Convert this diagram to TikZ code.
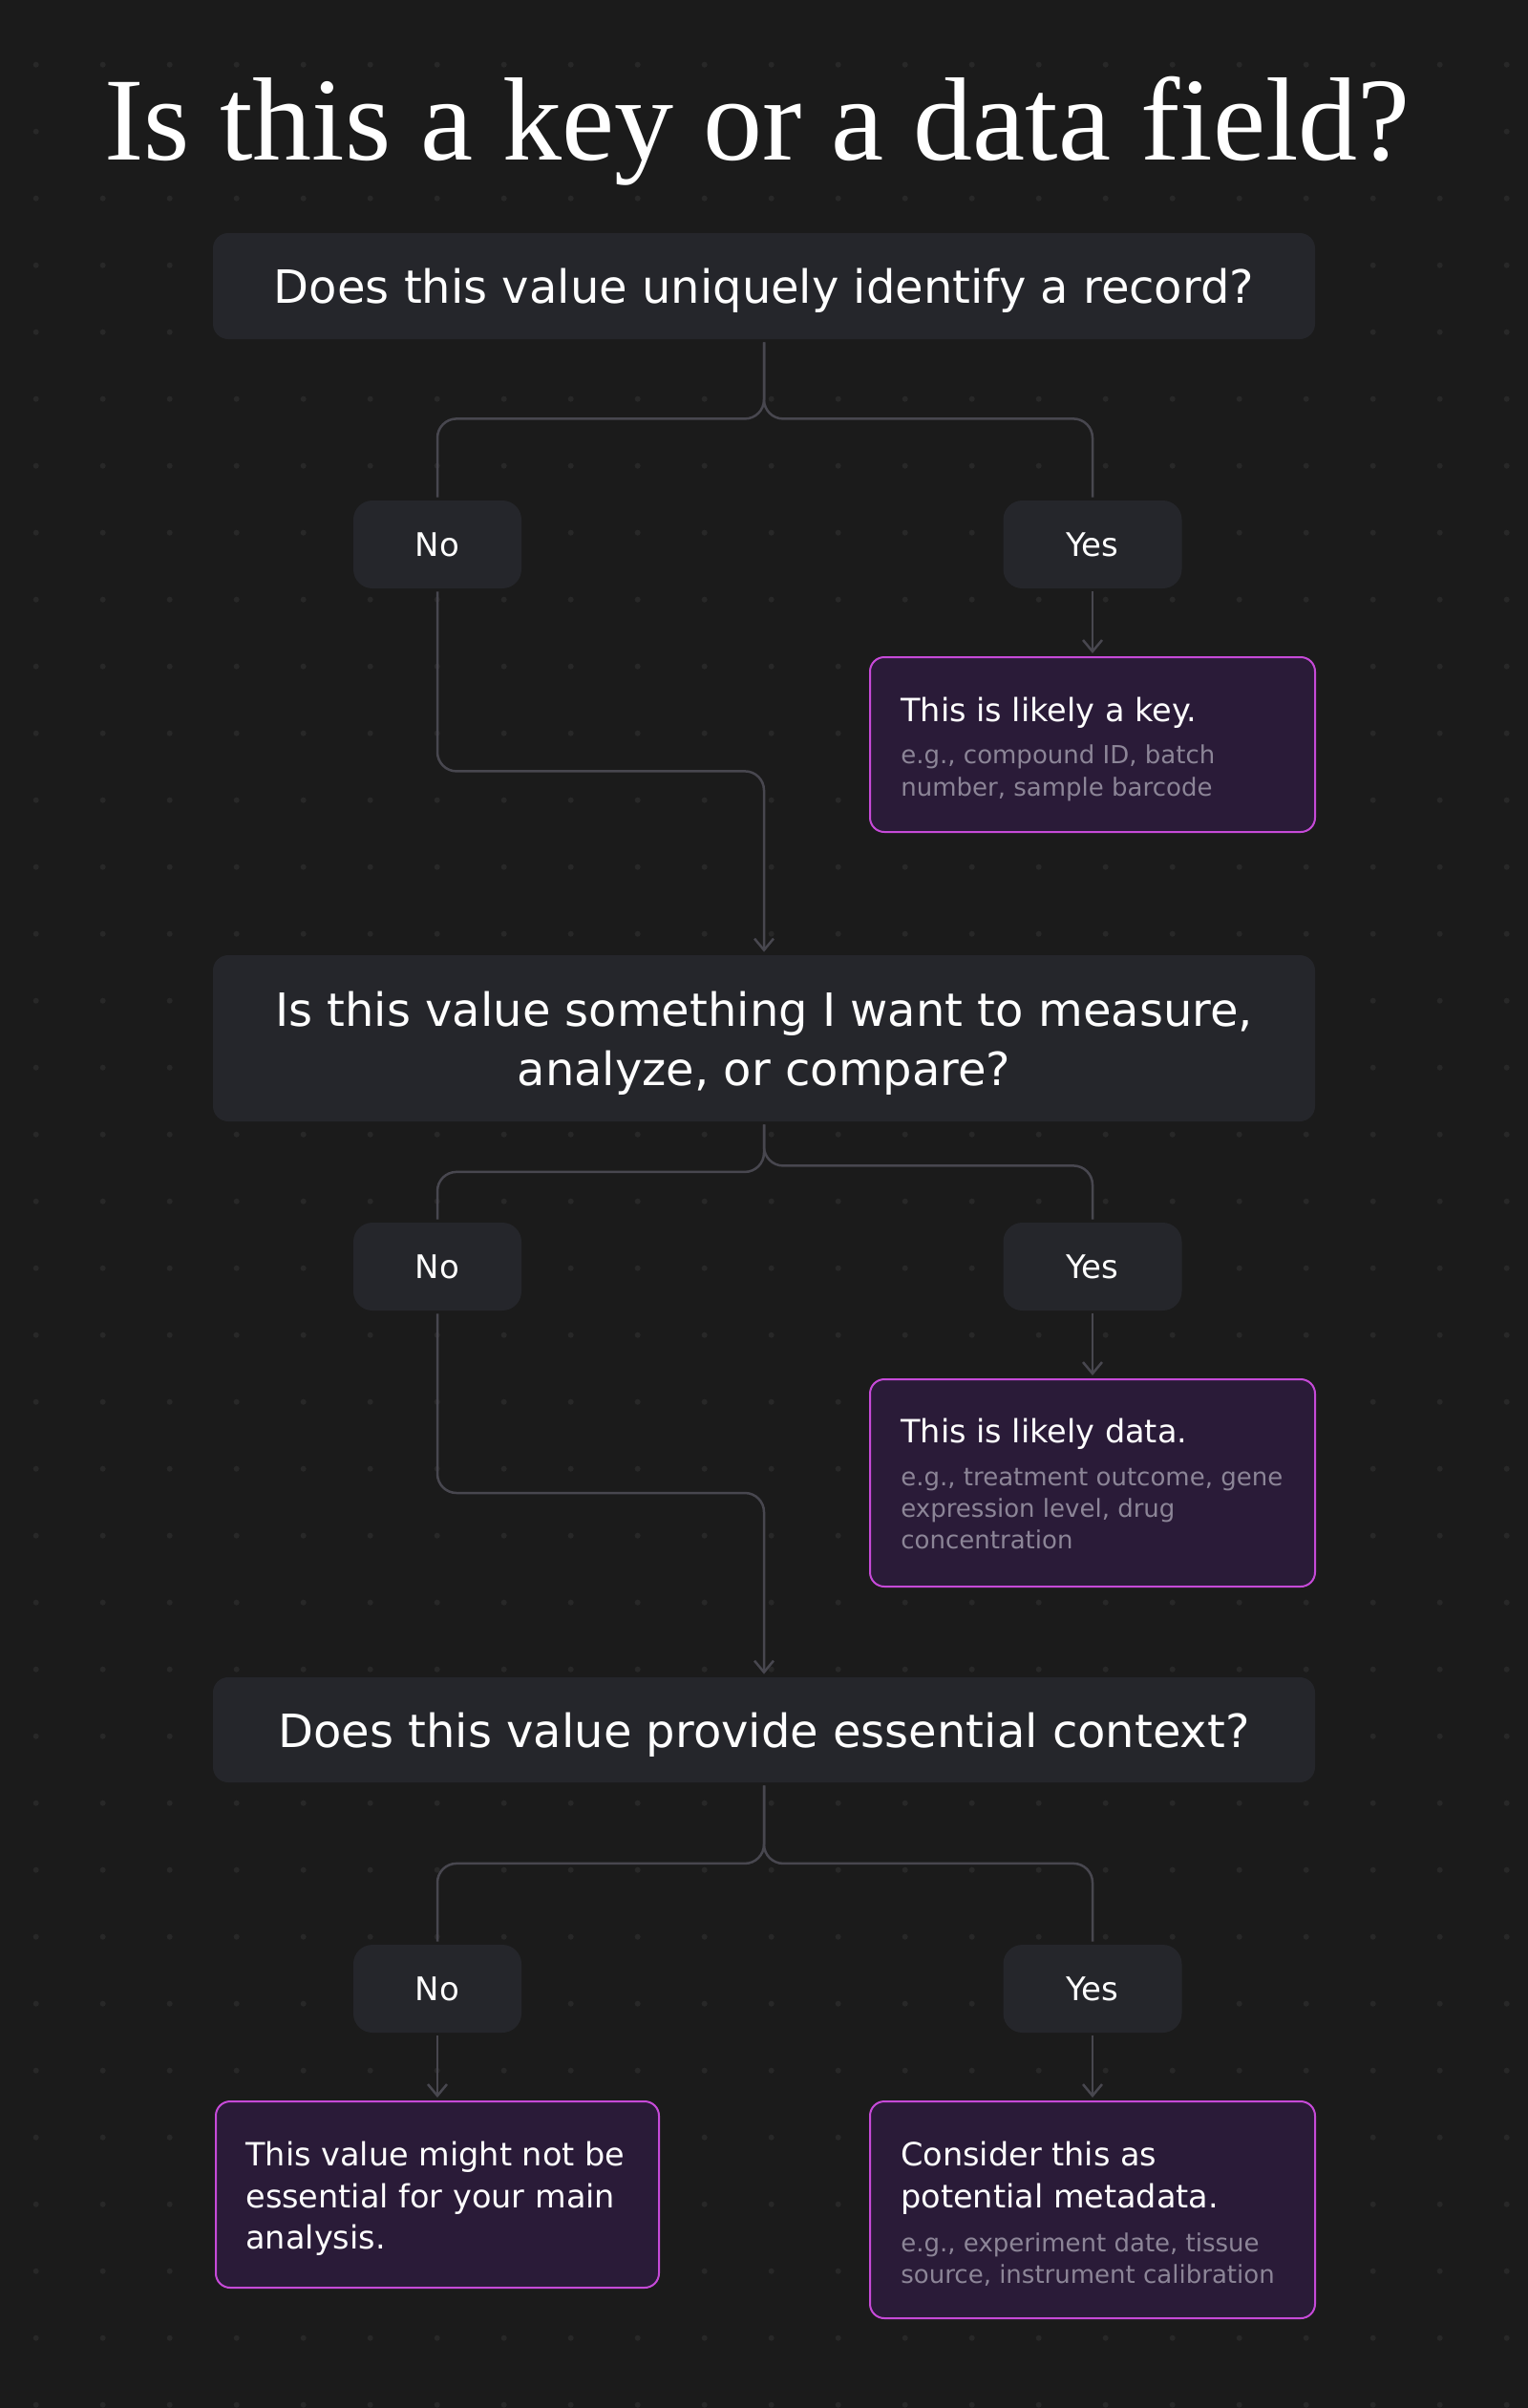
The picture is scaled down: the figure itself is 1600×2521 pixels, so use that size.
\documentclass[tikz,border=0pt]{standalone}
\usepackage{fontspec}
\setmainfont{DejaVu Sans}
\newfontfamily\titlefont{Liberation Serif}
\usetikzlibrary{arrows.meta}
\definecolor{bg}{HTML}{1B1B1B}
\definecolor{dotc}{HTML}{282828}
\definecolor{qfill}{HTML}{25262B}
\definecolor{rfill}{HTML}{2A1B38}
\definecolor{rborder}{HTML}{C64AD8}
\definecolor{linec}{HTML}{48474F}
\definecolor{gtxt}{HTML}{8C8597}
\begin{document}
\begin{tikzpicture}[x=0.5pt,y=-0.5pt,
  qbox/.style={fill=qfill, rounded corners=8pt, minimum width=577pt, inner sep=0pt},
  abox/.style={fill=qfill, rounded corners=10pt, minimum height=46pt, inner sep=0pt, text=white, font=\fontsize{17}{20}\selectfont},
  rbox/.style={fill=rfill, draw=rborder, line width=1pt, rounded corners=7.5pt, minimum width=233pt, inner sep=0pt},
  qtext/.style={anchor=base, text=white, font=\fontsize{24}{30}\selectfont, inner sep=0pt},
  rtext/.style={anchor=base west, text=white, font=\fontsize{16.75}{22}\selectfont, inner sep=0pt},
  gtext/.style={anchor=base west, text=gtxt, font=\fontsize{13}{17}\selectfont, inner sep=0pt},
  conn/.style={draw=linec, line width=1.25pt, rounded corners=10pt, shorten <=1.5pt, shorten >=1.5pt},
  arr/.style={conn, -{Straight Barb[length=6pt,width=10pt]}},
]
% background and dot grid
\fill[bg] (0,0) rectangle (1600,2521);
\useasboundingbox (0,0) rectangle (1600,2521);
\foreach \i in {0,...,22}
  \foreach \j in {0,...,35}
    \fill[dotc] (37.7+70*\i, 67.7+70*\j) circle[radius=1.5pt];
\fill[bg] (90,88) rectangle (1525,188);

% title
\node[anchor=base, inner sep=0pt, text=white, font=\titlefont\fontsize{62}{70}\selectfont] (title) at (793,168) {Is this a key or a data field?};

% question boxes
\node[qbox, minimum height=55.5pt] (q1) at (800,299.5) {};
\node[qbox, minimum height=87pt] (q2) at (800,1087) {};
\node[qbox, minimum height=55pt] (q3) at (800,1811) {};
\node[qtext] (q1t) at (800,317) {Does this value uniquely identify a record?};
\node[qtext] (q2ta) at (800,1074) {Is this value something I want to measure,};
\node[qtext] (q2tb) at (800,1136) {analyze, or compare?};
\node[qtext] (q3t) at (800,1829) {Does this value provide essential context?};

% answer boxes
\node[abox, minimum width=88pt] (n1) at (458,570) {No};
\node[abox, minimum width=93.5pt] (y1) at (1144,570) {Yes};
\node[abox, minimum width=88pt] (n2) at (458,1326) {No};
\node[abox, minimum width=93.5pt] (y2) at (1144,1326) {Yes};
\node[abox, minimum width=88pt] (n3) at (458,2082) {No};
\node[abox, minimum width=93.5pt] (y3) at (1144,2082) {Yes};

% result boxes
\node[rbox, minimum height=91.5pt] (r1) at (1144,779.5) {};
\node[rbox, minimum height=108.5pt] (r2) at (1144,1552.5) {};
\node[rbox, minimum height=97.5pt, minimum width=232pt] (r3) at (458,2297.5) {};
\node[rbox, minimum height=113.5pt] (r4) at (1144,2313.5) {};

\node[rtext] (r1a) at (943,755) {This is likely a key.};
\node[gtext] (r1b) at (943,799) {e.g., compound ID, batch};
\node[gtext] (r1c) at (943,833) {number, sample barcode};

\node[rtext] (r2a) at (943,1510) {This is likely data.};
\node[gtext] (r2b) at (943,1555) {e.g., treatment outcome, gene};
\node[gtext] (r2c) at (943,1588) {expression level, drug};
\node[gtext] (r2d) at (943,1621) {concentration};

\node[rtext] (r3a) at (257,2267) {This value might not be};
\node[rtext] (r3b) at (257,2311) {essential for your main};
\node[rtext] (r3c) at (257,2354) {analysis.};

\node[rtext] (r4a) at (943,2267) {Consider this as};
\node[rtext] (r4b) at (943,2311) {potential metadata.};
\node[gtext] (r4c) at (943,2357) {e.g., experiment date, tissue};
\node[gtext] (r4d) at (943,2390) {source, instrument calibration};

% connectors
\draw[conn] (q1.south) -- ++(0,83) -| (n1.north);
\draw[conn] (q1.south) -- ++(0,83) -| (y1.north);
\draw[arr] (y1.south) -- (r1.north);
\draw[arr] (n1.south) -- ++(0,191) -| (q2.north);

\draw[conn] (q2.south) -- ++(0,52.5) -| (n2.north);
\draw[conn] (q2.south) -- ++(0,46) -| (y2.north);
\draw[arr] (y2.south) -- (r2.north);
\draw[arr] (n2.south) -- ++(0,190.6) -| (q3.north);

\draw[conn] (q3.south) -- ++(0,84.5) -| (n3.north);
\draw[conn] (q3.south) -- ++(0,84.5) -| (y3.north);
\draw[arr] (n3.south) -- (r3.north);
\draw[arr] (y3.south) -- (r4.north);
\end{tikzpicture}
\end{document}
